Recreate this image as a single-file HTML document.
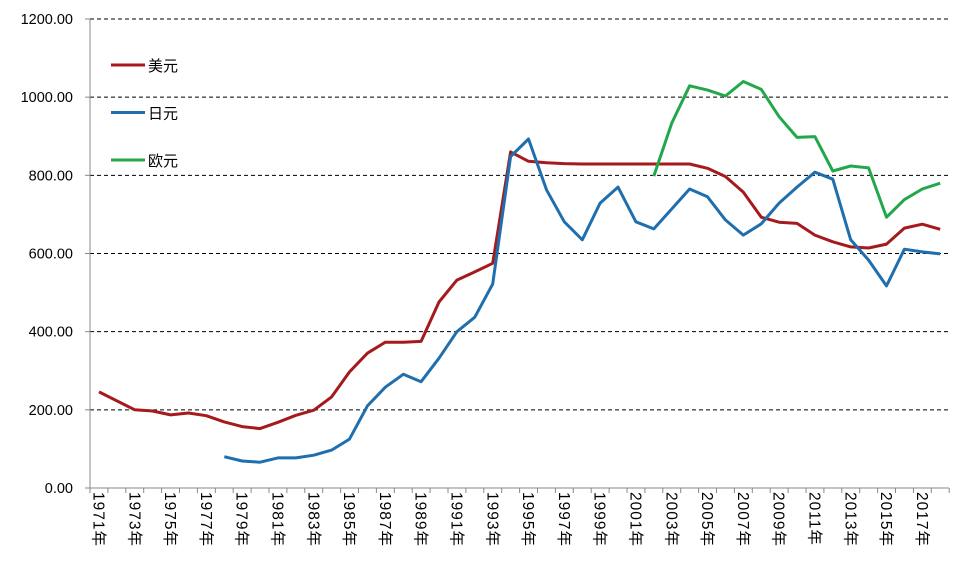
<!DOCTYPE html>
<html><head><meta charset="utf-8"><style>
body{margin:0;background:#fff}
text{font-family:"Liberation Sans","Noto Sans CJK SC",sans-serif}
</style></head><body>
<svg id="chart" width="956" height="560" xmlns="http://www.w3.org/2000/svg">
<g id="grid"></g>
<g id="axes"></g>
<g id="series"></g>
<g id="legend"></g>
</svg>
<script>
const years = [];
for (let y = 1971; y <= 2018; y++) years.push(y);
const yTicks = [0, 200, 400, 600, 800, 1000, 1200];
const seriesNames = ["美元", "日元", "欧元"];
const usd = [246,223,200,197,187,192,185,169,157,152,168,186,199,233,297,345,373,373,375,476,532,553,575,860,836,832,830,829,829,829,829,829,829,829,818,797,757,693,680,677,647,630,617,614,624,665,675,662];
const jpy = [null,null,null,null,null,null,null,80,69,66,77,77,84,97,125,210,258,291,272,332,400,437,522,848,893,763,681,635,729,770,681,663,714,765,745,686,647,676,729,770,808,790,635,583,517,611,604,599];
const eur = [null,null,null,null,null,null,null,null,null,null,null,null,null,null,null,null,null,null,null,null,null,null,null,null,null,null,null,null,null,null,null,798,934,1029,1018,1003,1040,1020,950,897,899,811,824,819,693,738,765,780];
const colors = ["#a51a1c", "#1f6fae", "#22a84a"];

const NS = "http://www.w3.org/2000/svg";
const x0 = 90, step = 17.9, yBase = 488, pxPerUnit = 469 / 1200, xRight = 949;
function xs(i){ return x0 + step * (i + 0.5); }
function ys(v){ return yBase - v * pxPerUnit; }
function mk(tag, attrs, parent){ const e = document.createElementNS(NS, tag); for (const k in attrs) e.setAttribute(k, attrs[k]); parent.appendChild(e); return e; }

const grid = document.getElementById('grid'), axes = document.getElementById('axes'), ser = document.getElementById('series'), leg = document.getElementById('legend');

yTicks.forEach(t => {
  const y = ys(t);
  if (t > 0) {
    const l = mk('line', {x1: x0, x2: xRight, y1: y, y2: y, stroke: '#000', 'stroke-dasharray': '4,3', 'stroke-width': 1}, grid);
    
    
  }
  const tk = mk('line', {x1: x0 - 5, x2: x0, y1: y, y2: y, stroke: '#888'}, axes);
  
  
  const tx = mk('text', {x: 73, y: y + 5, 'text-anchor': 'end', 'font-size': 14.5, fill: '#000'}, axes);
  tx.textContent = t.toFixed(2);
  
  
});
const ya = mk('line', {x1: x0, x2: x0, y1: 19, y2: yBase, stroke: '#888'}, axes);


const xa = mk('line', {x1: x0, x2: xRight, y1: yBase, y2: yBase, stroke: '#888'}, axes);


for (let i = 0; i <= years.length; i++) {
  const xx = x0 + step * i;
  const tk = mk('line', {x1: xx, x2: xx, y1: yBase, y2: yBase + 5, stroke: '#888'}, axes);
  
  
}
years.forEach((yr, i) => {
  if (i % 2 !== 0) return;
  const x = xs(i) - 5.5, y = 492;
  const t = mk('text', {x: x, y: y, 'font-size': 15.5, 'letter-spacing': 1, fill: '#000', transform: 'rotate(90 ' + x + ' ' + y + ')'}, axes);
  t.textContent = yr + '年';
  
  
});

[usd, jpy, eur].forEach((arr, s) => {
  let d = '';
  arr.forEach((v, i) => { if (v == null) return; d += (d ? 'L' : 'M') + xs(i).toFixed(1) + ',' + ys(v).toFixed(1); });
  const p = mk('path', {d: d, fill: 'none', stroke: colors[s], 'stroke-width': 3, 'stroke-linejoin': 'round'}, ser);
  
  
  const ly = 65 + s * 47.5;
  const ll = mk('line', {x1: 111, x2: 145, y1: ly, y2: ly, stroke: colors[s], 'stroke-width': 3}, leg);
  
  
  const lt = mk('text', {x: 148, y: ly + 6, 'font-size': 15, fill: '#000'}, leg);
  lt.textContent = seriesNames[s];
  
  
});
</script>
</body></html>
